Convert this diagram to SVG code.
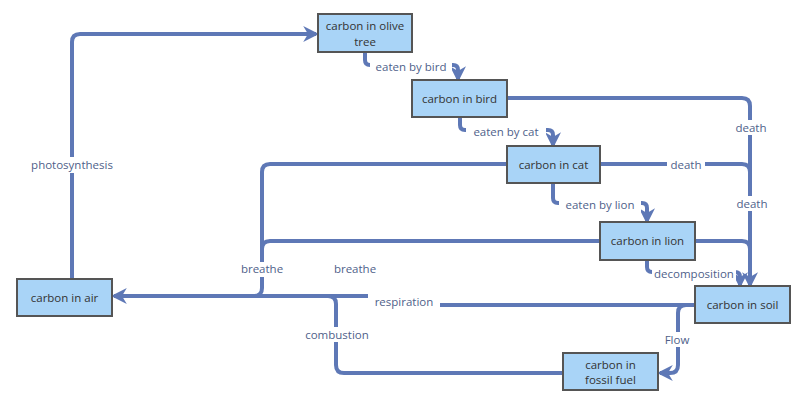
<svg xmlns="http://www.w3.org/2000/svg" width="800" height="413" viewBox="0 0 800 413">
<style>
.n rect{fill:#a9d4f7;stroke:#555;stroke-width:2}
.n text{font-family:"Open Sans","DejaVu Sans",sans-serif;font-size:11.5px;fill:#333;text-anchor:middle}
#c path{fill:none;stroke:#5e78b6;stroke-width:4;stroke-linejoin:round}
.l{font-family:"Open Sans","DejaVu Sans",sans-serif;font-size:11.5px;fill:#4f5f8a;text-anchor:middle}
.lb{fill:#fff}
</style>
<defs>
<marker id="a" viewBox="0 0 10 10" refX="8" refY="5" markerWidth="4" markerHeight="4" orient="auto" markerUnits="strokeWidth"><path d="M0,0 L10,5 L0,10 L3,5 z" fill="#5e78b6"/></marker>
</defs>
<rect width="800" height="413" fill="#fff"/>
<g id="c">
<path d="M72,279 V42 Q72,34 80,34 H316" marker-end="url(#a)"/>
<path d="M365,52 V60 Q365,65 370,65 H453 Q458,65 458,70 V79" marker-end="url(#a)"/>
<path d="M460,117 V125 Q460,130 465,130 H548 Q553,130 553,135 V145" marker-end="url(#a)"/>
<path d="M553,183 V198 Q553,203 558,203 H642 Q647,203 647,208 V221" marker-end="url(#a)"/>
<path d="M647,260 V267 Q647,272 652,272 H735 Q740,272 740,277 V285" marker-end="url(#a)"/>
<path d="M507,98 H742 Q750,98 750,106 V285" marker-end="url(#a)"/>
<path d="M600,164 H742 Q750,164 750,172"/>
<path d="M695,241 H742 Q750,241 750,249"/>
<path d="M507,164 H270 Q262,164 262,172 V288 Q262,296 254,296"/>
<path d="M600,241 H270 Q262,241 262,249"/>
<path d="M695,305 H440 M368,296 H114" marker-end="url(#a)"/>
<path d="M563,373 H344 Q336,373 336,365 V304 Q336,296 328,296"/>
<path d="M695,305 H686 Q678,305 678,313 V365 Q678,373 670,373 H660" marker-end="url(#a)"/>
</g>
<g>
<rect class="lb" x="28" y="157" width="90" height="16"/>
<text class="l" x="72" y="169">photosynthesis</text>
<rect class="lb" x="370" y="59" width="82" height="15"/>
<text class="l" x="411" y="71">eaten by bird</text>
<rect class="lb" x="466" y="124" width="80" height="15"/>
<text class="l" x="506" y="136">eaten by cat</text>
<rect class="lb" x="559" y="197" width="82" height="15"/>
<text class="l" x="600" y="209">eaten by lion</text>
<rect class="lb" x="652" y="266" width="84" height="15"/>
<text class="l" x="694" y="278">decomposition</text>
<rect class="lb" x="732" y="120" width="38" height="15"/>
<text class="l" x="751" y="132">death</text>
<rect class="lb" x="667" y="157" width="38" height="15"/>
<text class="l" x="686" y="169">death</text>
<rect class="lb" x="733" y="196" width="38" height="15"/>
<text class="l" x="752" y="208">death</text>
<rect class="lb" x="236" y="262" width="52" height="15"/>
<text class="l" x="262" y="273">breathe</text>
<text class="l" x="355" y="273">breathe</text>
<text class="l" x="404" y="306">respiration</text>
<rect class="lb" x="302" y="327" width="70" height="15"/>
<text class="l" x="337" y="339">combustion</text>
<rect class="lb" x="660" y="332" width="34" height="15"/>
<text class="l" x="677" y="344">Flow</text>
</g>
<g id="olive" class="n"><rect x="318" y="14" width="94" height="38"/><text x="365" y="30">carbon in olive</text><text x="365" y="46">tree</text></g>
<g id="bird" class="n"><rect x="412" y="80" width="95" height="37"/><text x="459.5" y="103">carbon in bird</text></g>
<g id="cat" class="n"><rect x="507" y="146" width="93" height="37"/><text x="553.5" y="169">carbon in cat</text></g>
<g id="lion" class="n"><rect x="600" y="222" width="95" height="38"/><text x="647.5" y="245">carbon in lion</text></g>
<g id="soil" class="n"><rect x="695" y="286" width="95" height="37"/><text x="742.5" y="309">carbon in soil</text></g>
<g id="fossil" class="n"><rect x="563" y="353" width="95" height="37"/><text x="610.5" y="369">carbon in</text><text x="610.5" y="384">fossil fuel</text></g>
<g id="air" class="n"><rect x="17" y="279" width="95" height="37"/><text x="64.5" y="302">carbon in air</text></g>
</svg>
